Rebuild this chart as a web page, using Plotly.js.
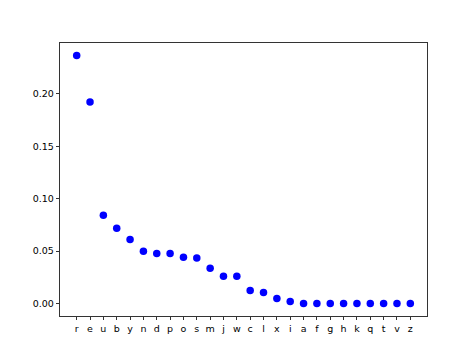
<!DOCTYPE html>
<html>
<head>
<meta charset="utf-8">
<script src="https://cdn.plot.ly/plotly-3.0.1.min.js"></script>
<style>html,body{margin:0;padding:0;background:#fff;}#chart{width:474px;height:355px;}</style>
</head>
<body>
<div id="chart"></div>
<script>
const letters = ["r","e","u","b","y","n","d","p","o","s","m","j","w","c","l","x","i","a","f","g","h","k","q","t","v","z"];
const values = [0.2365,0.192,0.0843,0.0717,0.0612,0.0498,0.0478,0.0478,0.0441,0.0435,0.0336,0.026,0.026,0.0124,0.0105,0.0048,0.0019,0,0,0,0,0,0,0,0,0];
const yTicks = [0, 0.05, 0.10, 0.15, 0.20];
const yTickText = ["0.00","0.05","0.10","0.15","0.20"];

const idx = letters.map((_, i) => i);
const trace = {
  x: idx, y: values, type: "scatter", mode: "markers",
  marker: {color: "#0000ff", size: 7.5},
  hoverinfo: "skip"
};
const font = {family: "DejaVu Sans, sans-serif", size: 9.5, color: "#000"};
const layout = {
  width: 474, height: 355,
  margin: {l: 59.5, r: 47.3, t: 42.5, b: 39.3, pad: 0},
  paper_bgcolor: "#fff", plot_bgcolor: "#fff",
  showlegend: false,
  font: font,
  xaxis: {
    range: [-1.25, 26.25], tickmode: "array", tickvals: idx, ticktext: letters,
    showgrid: false, zeroline: false, showline: true, mirror: true,
    linecolor: "#000", linewidth: 0.8, ticks: "outside", ticklen: 3.5,
    tickwidth: 0.8, tickcolor: "#000", tickfont: font, fixedrange: true
  },
  yaxis: {
    range: [-0.0118, 0.2483], tickmode: "array", tickvals: yTicks, ticktext: yTickText,
    showgrid: false, zeroline: false, showline: true, mirror: true,
    linecolor: "#000", linewidth: 0.8, ticks: "outside", ticklen: 3.5,
    tickwidth: 0.8, tickcolor: "#000", tickfont: font, fixedrange: true
  }
};
Plotly.newPlot("chart", [trace], layout, {staticPlot: true, displayModeBar: false});
</script>
</body>
</html>
